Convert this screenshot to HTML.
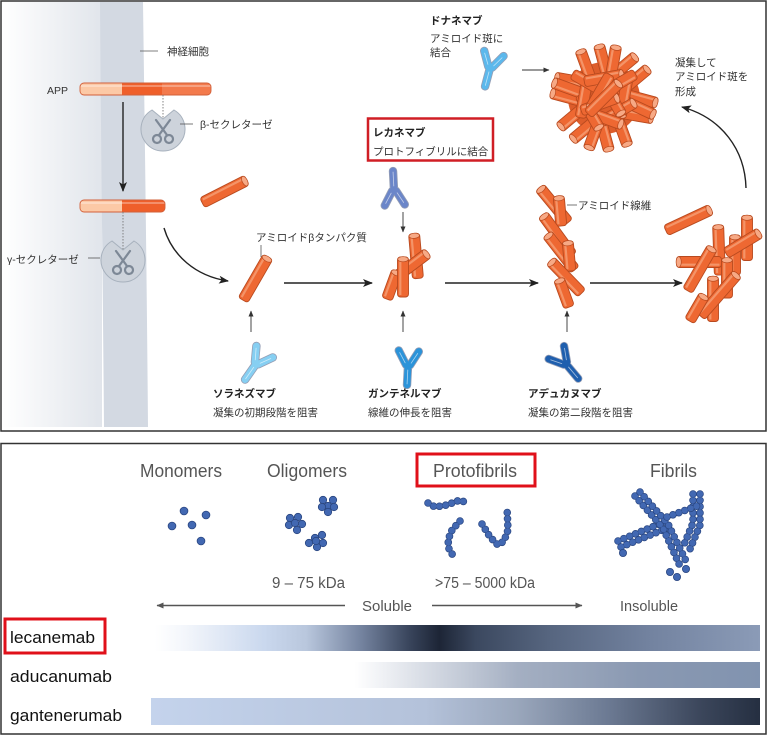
<!DOCTYPE html>
<html><head><meta charset="utf-8"><style>
html,body{margin:0;padding:0;background:#fff;}
svg{display:block;}
.jp{font-family:"Liberation Sans","Noto Sans CJK JP",sans-serif;font-size:10.5px;fill:#333;}
.jb{font-family:"Liberation Sans","Noto Sans CJK JP",sans-serif;font-size:10.5px;fill:#222;font-weight:700;}
.en{font-family:"Liberation Sans",Arial,sans-serif;fill:#555;}
.ab{font-family:"Liberation Sans",Arial,sans-serif;fill:#111;font-size:17px;}
.dO{fill:none;stroke:#2a4680;stroke-width:7.6;stroke-linecap:round;stroke-dasharray:0 6.3;}
.dI{fill:none;stroke:#4268b2;stroke-width:6.2;stroke-linecap:round;stroke-dasharray:0 6.3;}
.dot{fill:#4268b2;stroke:#2a4680;stroke-width:0.8;}
</style></head><body>
<svg width="768" height="736" viewBox="0 0 768 736" xmlns="http://www.w3.org/2000/svg">
<defs>
 <linearGradient id="memL" x1="0" x2="1"><stop offset="0" stop-color="#ffffff"/><stop offset="1" stop-color="#e1e5eb"/></linearGradient>
 <linearGradient id="gL" x1="0" x2="1">
  <stop offset="0" stop-color="#ffffff"/><stop offset="0.05" stop-color="#f3f6fb"/><stop offset="0.18" stop-color="#cad8ee"/>
  <stop offset="0.25" stop-color="#b9c7dd"/><stop offset="0.34" stop-color="#7584a0"/><stop offset="0.42" stop-color="#39455c"/>
  <stop offset="0.47" stop-color="#1d2536"/><stop offset="0.53" stop-color="#3b485f"/><stop offset="0.65" stop-color="#56657f"/>
  <stop offset="0.82" stop-color="#7383a0"/><stop offset="1" stop-color="#8b9bb7"/></linearGradient>
 <linearGradient id="gA" x1="0" x2="1">
  <stop offset="0" stop-color="#ffffff"/><stop offset="0.33" stop-color="#ffffff"/><stop offset="0.45" stop-color="#d6dbe4"/>
  <stop offset="0.6" stop-color="#a4afc2"/><stop offset="0.8" stop-color="#8a99b2"/><stop offset="1" stop-color="#8193af"/></linearGradient>
 <linearGradient id="gG" x1="0" x2="1">
  <stop offset="0" stop-color="#c4d3ec"/><stop offset="0.45" stop-color="#b4c2da"/><stop offset="0.6" stop-color="#9aa7bc"/>
  <stop offset="0.75" stop-color="#6c7a93"/><stop offset="0.9" stop-color="#3c475c"/><stop offset="1" stop-color="#252f41"/></linearGradient>
 <marker id="ah" viewBox="0 0 10 8" refX="9" refY="4" markerWidth="10" markerHeight="8" markerUnits="userSpaceOnUse" orient="auto"><path d="M0,0 L10,4 L0,8 L2.5,4 Z" fill="#222"/></marker>
 <marker id="ahs" viewBox="0 0 6 5" refX="5.5" refY="2.5" markerWidth="6" markerHeight="5" markerUnits="userSpaceOnUse" orient="auto"><path d="M0,0 L6,2.5 L0,5 Z" fill="#333"/></marker>
 <marker id="ahg" viewBox="0 0 7 6" refX="6.5" refY="3" markerWidth="7" markerHeight="6" markerUnits="userSpaceOnUse" orient="auto"><path d="M0,0 L7,3 L0,6 Z" fill="#555"/></marker>
 <g id="r30"><rect x="-15" y="-5.5" width="30" height="11" rx="3" fill="#ee6832" stroke="#b84a1f" stroke-width="0.9"/><rect x="-13" y="-3.8" width="25" height="2.2" fill="#f49468"/><ellipse cx="12.8" cy="0" rx="2.6" ry="5.3" fill="#f7a985" stroke="#b84a1f" stroke-width="0.7"/></g>
 <g id="r40"><rect x="-20" y="-5.5" width="40" height="11" rx="3" fill="#ee6832" stroke="#b84a1f" stroke-width="0.9"/><rect x="-18" y="-3.8" width="35" height="2.2" fill="#f49468"/><ellipse cx="17.8" cy="0" rx="2.6" ry="5.3" fill="#f7a985" stroke="#b84a1f" stroke-width="0.7"/></g>
 <g id="r45"><rect x="-22.5" y="-5.5" width="45" height="11" rx="3" fill="#ee6832" stroke="#b84a1f" stroke-width="0.9"/><rect x="-20.5" y="-3.8" width="40" height="2.2" fill="#f49468"/><ellipse cx="20.3" cy="0" rx="2.6" ry="5.3" fill="#f7a985" stroke="#b84a1f" stroke-width="0.7"/></g>
 <g id="r50"><rect x="-25" y="-5.5" width="50" height="11" rx="3" fill="#ee6832" stroke="#b84a1f" stroke-width="0.9"/><rect x="-23" y="-3.8" width="45" height="2.2" fill="#f49468"/><ellipse cx="22.8" cy="0" rx="2.6" ry="5.3" fill="#f7a985" stroke="#b84a1f" stroke-width="0.7"/></g>
 <g id="r56"><rect x="-28" y="-5.5" width="56" height="11" rx="3" fill="#ee6832" stroke="#b84a1f" stroke-width="0.9"/><rect x="-26" y="-3.8" width="51" height="2.2" fill="#f49468"/><ellipse cx="25.8" cy="0" rx="2.6" ry="5.3" fill="#f7a985" stroke="#b84a1f" stroke-width="0.7"/></g>
 <g id="ab" fill="none" stroke-linecap="round">
  <path d="M0,3 L0,19 M-2,-1 L-10,-15 M2,-1 L10,-15" stroke="rgba(20,40,90,0.45)" stroke-width="8.4"/>
  <path d="M0,3 L0,19 M-2,-1 L-10,-15 M2,-1 L10,-15" stroke="currentColor" stroke-width="6.8"/>
  <path d="M0,4 L0,18 M-3,-3 L-9,-13 M3,-3 L9,-13" stroke="rgba(255,255,255,0.6)" stroke-width="0.8"/>
 </g>
 <g id="sc">
  <path d="M11,-19 A22,22 0 1 1 -11,-19 L0,-10 Z" fill="#cdd3db" stroke="#a7b1bd" stroke-width="1"/>
  <g fill="none" stroke="#7d8896" stroke-width="2.2" stroke-linecap="round">
   <circle cx="-6" cy="10" r="4"/><circle cx="6" cy="10" r="4"/>
   <path d="M-4,6 L7,-9 M4,6 L-7,-9"/>
  </g>
 </g>
</defs>

<!-- ===== TOP PANEL ===== -->
<rect x="1" y="1" width="765" height="430" fill="#fff" stroke="#333" stroke-width="1.5"/>
<rect x="2" y="2" width="100" height="425" fill="url(#memL)"/>
<path d="M100,2 L143,2 C145,150 147,300 148,427 L104,427 C103,300 101,150 100,2 Z" fill="#d3d9e2"/>

<line x1="140" y1="51" x2="158" y2="51" stroke="#555" stroke-width="0.8"/>
<text class="jp" x="167" y="55">神経細胞</text>

<text class="jp" x="47" y="94">APP</text>
<clipPath id="c1"><rect x="80" y="83" width="131" height="12" rx="4"/></clipPath>
<g clip-path="url(#c1)">
 <rect x="80" y="83" width="42" height="12" fill="#fcc9a6"/>
 <rect x="122" y="83" width="40" height="12" fill="#ef5f2a"/>
 <rect x="162" y="83" width="49" height="12" fill="#f37a4c"/>
 <rect x="80" y="85" width="131" height="2" fill="#fff" opacity="0.3"/>
</g>
<rect x="80" y="83" width="131" height="12" rx="4" fill="none" stroke="#d2603a" stroke-width="0.9"/>
<line x1="163" y1="95" x2="163" y2="126" stroke="#777" stroke-width="0.9" stroke-dasharray="1.5 1.5"/>
<use href="#sc" transform="translate(163,129)"/>
<line x1="180" y1="124" x2="193" y2="124" stroke="#555" stroke-width="0.8"/>
<text class="jp" x="200" y="128">β-セクレターゼ</text>

<line x1="123" y1="102" x2="123" y2="191" stroke="#222" stroke-width="1.4" marker-end="url(#ah)"/>

<clipPath id="c2"><rect x="80" y="200" width="85" height="12" rx="4"/></clipPath>
<g clip-path="url(#c2)">
 <rect x="80" y="200" width="42" height="12" fill="#fcc9a6"/>
 <rect x="122" y="200" width="43" height="12" fill="#ef5f2a"/>
 <rect x="80" y="202" width="85" height="2" fill="#fff" opacity="0.3"/>
</g>
<rect x="80" y="200" width="85" height="12" rx="4" fill="none" stroke="#d2603a" stroke-width="0.9"/>
<line x1="123" y1="212" x2="123" y2="257" stroke="#777" stroke-width="0.9" stroke-dasharray="1.5 1.5"/>
<use href="#sc" transform="translate(123,260)"/>
<line x1="88" y1="258" x2="100" y2="258" stroke="#555" stroke-width="0.8"/>
<text class="jp" x="7" y="263">γ-セクレターゼ</text>

<use href="#r50" transform="translate(224.5,191.5) rotate(-27)"/>
<path d="M164,228 C172,255 195,276 228,281" fill="none" stroke="#222" stroke-width="1.4" marker-end="url(#ah)"/>

<text class="jp" x="256" y="241">アミロイドβタンパク質</text>
<line x1="261" y1="245" x2="261" y2="257" stroke="#555" stroke-width="0.8"/>
<use href="#r50" transform="translate(255.5,278.5) rotate(-60)"/>
<line x1="284" y1="283" x2="372" y2="283" stroke="#222" stroke-width="1.4" marker-end="url(#ah)"/>
<line x1="251" y1="332" x2="251" y2="311" stroke="#333" stroke-width="0.9" marker-end="url(#ahs)"/>
<use href="#ab" transform="translate(256,364) rotate(35)" style="color:#86cff2"/>
<text class="jb" x="213" y="397">ソラネズマブ</text>
<text class="jp" x="213" y="416">凝集の初期段階を阻害</text>

<rect x="368" y="118.5" width="125" height="42" fill="none" stroke="#d01e25" stroke-width="2.5"/>
<text class="jb" x="373" y="136">レカネマブ</text>
<text class="jp" x="373" y="155">プロトフィブリルに結合</text>
<use href="#ab" transform="translate(394,190) rotate(177)" style="color:#6b86c9"/>
<line x1="403" y1="212" x2="403" y2="232" stroke="#333" stroke-width="0.9" marker-end="url(#ahs)"/>

<use href="#r45" transform="translate(416,256) rotate(-95)"/>
<use href="#r45" transform="translate(410,266.5) rotate(-37)"/>
<use href="#r30" transform="translate(392,285) rotate(-70)"/>
<use href="#r40" transform="translate(403,277) rotate(-90)"/>
<line x1="445" y1="283" x2="538" y2="283" stroke="#222" stroke-width="1.4" marker-end="url(#ah)"/>
<line x1="403" y1="332" x2="403" y2="311" stroke="#333" stroke-width="0.9" marker-end="url(#ahs)"/>
<use href="#ab" transform="translate(408,366) rotate(3)" style="color:#2b93d9"/>
<text class="jb" x="368" y="397">ガンテネルマブ</text>
<text class="jp" x="368" y="416">線維の伸長を阻害</text>

<use href="#r45" transform="translate(554,205) rotate(-129.5)"/>
<use href="#r30" transform="translate(560,211) rotate(-95)"/>
<use href="#r50" transform="translate(557.5,235) rotate(-126)"/>
<use href="#r45" transform="translate(561,252) rotate(-128)"/>
<use href="#r30" transform="translate(569,256) rotate(-95)"/>
<use href="#r45" transform="translate(566,277) rotate(-134)"/>
<use href="#r30" transform="translate(564,293) rotate(-110)"/>
<line x1="567" y1="205" x2="577" y2="205" stroke="#555" stroke-width="0.8"/>
<text class="jp" x="578" y="209">アミロイド線維</text>
<line x1="590" y1="283" x2="682" y2="283" stroke="#222" stroke-width="1.4" marker-end="url(#ah)"/>
<line x1="567" y1="332" x2="567" y2="311" stroke="#333" stroke-width="0.9" marker-end="url(#ahs)"/>
<use href="#ab" transform="translate(566,364) rotate(-40)" style="color:#1f5fae"/>
<text class="jb" x="528" y="397">アデュカヌマブ</text>
<text class="jp" x="528" y="416">凝集の第二段階を阻害</text>

<use href="#r50" transform="translate(688.5,220) rotate(-25)"/>
<use href="#r50" transform="translate(719,250) rotate(-92)"/>
<use href="#r45" transform="translate(747,238) rotate(-90)"/>
<use href="#r40" transform="translate(735,255) rotate(-90)"/>
<use href="#r40" transform="translate(743,243) rotate(-31)"/>
<use href="#r45" transform="translate(699,262) rotate(180)"/>
<use href="#r50" transform="translate(700,269) rotate(-60)"/>
<use href="#r40" transform="translate(727,278) rotate(-90)"/>
<use href="#r45" transform="translate(713,299) rotate(-90)"/>
<use href="#r56" transform="translate(719,295) rotate(-49)"/>
<use href="#r30" transform="translate(697,308) rotate(-60)"/>
<path d="M746,188 C745,150 722,118 682,107" fill="none" stroke="#222" stroke-width="1.4" marker-end="url(#ah)"/>

<!-- plaque -->
<g>
<circle cx="604" cy="98" r="36" fill="#dd5d2b"/>
<use href="#r40" transform="translate(638,98) rotate(15)"/>
<use href="#r40" transform="translate(633.4,115) rotate(10)"/>
<use href="#r40" transform="translate(621,127.4) rotate(70)"/>
<use href="#r40" transform="translate(604,132) rotate(75)"/>
<use href="#r40" transform="translate(587,127.4) rotate(140)"/>
<use href="#r40" transform="translate(574.6,115) rotate(140)"/>
<use href="#r40" transform="translate(570,98) rotate(195)"/>
<use href="#r40" transform="translate(574.6,81) rotate(190)"/>
<use href="#r40" transform="translate(587,68.6) rotate(250)"/>
<use href="#r40" transform="translate(604,64) rotate(255)"/>
<use href="#r40" transform="translate(621,68.6) rotate(320)"/>
<use href="#r40" transform="translate(633.4,81) rotate(320)"/>
<use href="#r40" transform="translate(636.8,106.8) rotate(25)"/>
<use href="#r40" transform="translate(595.2,130.8) rotate(110)"/>
<use href="#r40" transform="translate(571.2,89.2) rotate(200)"/>
<use href="#r40" transform="translate(612.8,65.2) rotate(280)"/>
<use href="#r40" transform="translate(624,98) rotate(100)"/>
<use href="#r40" transform="translate(618.1,112.1) rotate(-30)"/>
<use href="#r40" transform="translate(604,118) rotate(20)"/>
<use href="#r40" transform="translate(589.9,112.1) rotate(60)"/>
<use href="#r40" transform="translate(584,98) rotate(-80)"/>
<use href="#r40" transform="translate(589.9,83.9) rotate(30)"/>
<use href="#r40" transform="translate(604,78) rotate(-10)"/>
<use href="#r40" transform="translate(618.1,83.9) rotate(150)"/>
<use href="#r40" transform="translate(612,98) rotate(60)"/>
<use href="#r40" transform="translate(600,104) rotate(-20)"/>
<use href="#r40" transform="translate(600,92) rotate(120)"/>
<use href="#r45" transform="translate(604,98) rotate(-45)"/>
</g>
<text class="jp" x="675" y="66">凝集して</text>
<text class="jp" x="675" y="80">アミロイド斑を</text>
<text class="jp" x="675" y="95">形成</text>

<text class="jb" x="430" y="24">ドナネマブ</text>
<text class="jp" x="430" y="42">アミロイド斑に</text>
<text class="jp" x="430" y="56">結合</text>
<use href="#ab" transform="translate(490,68) rotate(15)" style="color:#5cb8ec"/>
<line x1="522" y1="70" x2="549" y2="70" stroke="#333" stroke-width="0.9" marker-end="url(#ahs)"/>

<!-- ===== BOTTOM PANEL ===== -->
<rect x="1" y="443.5" width="765" height="290.5" fill="#fff" stroke="#333" stroke-width="1.5"/>
<text class="en" x="140" y="477" font-size="18" textLength="82" lengthAdjust="spacingAndGlyphs">Monomers</text>
<text class="en" x="267" y="477" font-size="18" textLength="80" lengthAdjust="spacingAndGlyphs">Oligomers</text>
<text class="en" x="433" y="477" font-size="18" textLength="84" lengthAdjust="spacingAndGlyphs">Protofibrils</text>
<text class="en" x="650" y="477" font-size="18" textLength="47" lengthAdjust="spacingAndGlyphs">Fibrils</text>
<rect x="417" y="454" width="118" height="32" fill="none" stroke="#e0101a" stroke-width="3"/>

<circle class="dot" cx="184" cy="511" r="3.9"/><circle class="dot" cx="206" cy="515" r="3.9"/>
<circle class="dot" cx="172" cy="526" r="3.9"/><circle class="dot" cx="192" cy="525" r="3.9"/>
<circle class="dot" cx="201" cy="541" r="3.9"/>
<g>
<circle class="dot" cx="290" cy="518" r="3.7"/><circle class="dot" cx="298" cy="517" r="3.7"/><circle class="dot" cx="289" cy="525" r="3.7"/>
<circle class="dot" cx="302" cy="524" r="3.7"/><circle class="dot" cx="295" cy="523" r="3.7"/><circle class="dot" cx="297" cy="530" r="3.7"/>
<circle class="dot" cx="323" cy="500" r="3.7"/><circle class="dot" cx="333" cy="500" r="3.7"/><circle class="dot" cx="328" cy="506" r="3.7"/>
<circle class="dot" cx="322" cy="507" r="3.7"/><circle class="dot" cx="334" cy="507" r="3.7"/><circle class="dot" cx="328" cy="512" r="3.7"/>
<circle class="dot" cx="322" cy="535" r="3.7"/><circle class="dot" cx="315" cy="538" r="3.7"/><circle class="dot" cx="309" cy="543" r="3.7"/>
<circle class="dot" cx="323" cy="543" r="3.7"/><circle class="dot" cx="317" cy="547" r="3.7"/><circle class="dot" cx="316" cy="541" r="3.7"/>
</g>
<g>
<path class="dO" d="M428,503 L435,507 L447,505 L460,500 L467,503"/><path class="dI" d="M428,503 L435,507 L447,505 L460,500 L467,503"/>
<path class="dO" d="M460,521 L452,530 L448,540 L449,549 L454,557"/><path class="dI" d="M460,521 L452,530 L448,540 L449,549 L454,557"/>
<path class="dO" d="M482,524 L490,537 L498,545 L504,541 L508,530 L507,507"/><path class="dI" d="M482,524 L490,537 L498,545 L504,541 L508,530 L507,507"/>
</g>
<g>
<path class="dO" d="M618,541 L667,521"/><path class="dI" d="M618,541 L667,521"/>
<path class="dO" d="M621,547 L670,527"/><path class="dI" d="M621,547 L670,527"/>
<path class="dO" d="M635,496 L663,528 L680,566"/><path class="dI" d="M635,496 L663,528 L680,566"/>
<path class="dO" d="M640,492 L668,524 L686,561"/><path class="dI" d="M640,492 L668,524 L686,561"/>
<path class="dO" d="M693,494 L693,523 L683,547"/><path class="dI" d="M693,494 L693,523 L683,547"/>
<path class="dO" d="M700,494 L700,525 L690,549"/><path class="dI" d="M700,494 L700,525 L690,549"/>
<path class="dO" d="M667,517 L697,506"/><path class="dI" d="M667,517 L697,506"/>
<circle class="dot" cx="677" cy="577" r="3.6"/><circle class="dot" cx="670" cy="572" r="3.6"/>
<circle class="dot" cx="686" cy="569" r="3.6"/><circle class="dot" cx="623" cy="553" r="3.6"/>
</g>

<text class="en" x="272" y="588" font-size="15.5" textLength="73" lengthAdjust="spacingAndGlyphs">9 – 75 kDa</text>
<text class="en" x="435" y="588" font-size="15.5" textLength="100" lengthAdjust="spacingAndGlyphs">&gt;75 – 5000 kDa</text>

<line x1="345" y1="605.5" x2="157" y2="605.5" stroke="#555" stroke-width="1.5" marker-end="url(#ahg)"/>
<text class="en" x="362" y="611" font-size="14.5" textLength="50" lengthAdjust="spacingAndGlyphs">Soluble</text>
<line x1="432" y1="605.5" x2="582" y2="605.5" stroke="#555" stroke-width="1.5" marker-end="url(#ahg)"/>
<text class="en" x="620" y="611" font-size="14.5" textLength="58" lengthAdjust="spacingAndGlyphs">Insoluble</text>

<rect x="155" y="625" width="605" height="26" fill="url(#gL)"/>
<rect x="155" y="662" width="605" height="26" fill="url(#gA)"/>
<rect x="151" y="698" width="609" height="27" fill="url(#gG)"/>

<rect x="5" y="619" width="100" height="34" fill="none" stroke="#e0101a" stroke-width="3"/>
<text class="ab" x="10" y="643" textLength="85" lengthAdjust="spacingAndGlyphs">lecanemab</text>
<text class="ab" x="10" y="682" textLength="102" lengthAdjust="spacingAndGlyphs">aducanumab</text>
<text class="ab" x="10" y="721" textLength="112" lengthAdjust="spacingAndGlyphs">gantenerumab</text>
</svg>
</body></html>
